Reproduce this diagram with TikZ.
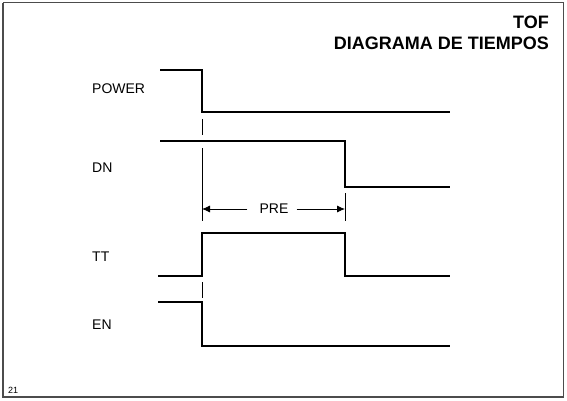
\documentclass[tikz,border=0pt]{standalone}
\usepackage{fontspec}
\setmainfont{Liberation Sans}
\usetikzlibrary{arrows.meta}
\begin{document}
\begin{tikzpicture}[x=1pt,y=-1pt,>={Latex[length=8pt,width=7pt]},line join=miter,
	signal/.style={line width=1.5pt},
	marker/.style={line width=0.6pt},
	lbl/.style={anchor=west,inner sep=0pt,font=\fontsize{14}{15}\selectfont}]
				\useasboundingbox (0,0) rectangle (567,401);
				% frame
				\draw[line width=1pt,gray!60!black] (3,3) rectangle (563,397);
				\draw[line width=2.5pt,gray!60!black] (3,3) -- (3,397) -- (563,397);
				\node[anchor=north east,align=right,inner sep=0pt,font=\bfseries\fontsize{18}{21}\selectfont] (title) at (549,16) {TOF\\DIAGRAMA DE TIEMPOS};
				\node[anchor=south west,inner sep=0pt,font=\fontsize{9}{10}\selectfont] (page) at (8,394) {21};
				% labels
				\node[lbl] (power) at (92,89) {POWER};
				\node[lbl] (dn) at (92,168) {DN};
				\node[lbl] (tt) at (92,257) {TT};
				\node[lbl] (en) at (92,325) {EN};
				% signals
				\draw[signal] (160,70) -- (202,70) -- (202,112) -- (450,112);
				\draw[signal] (160,141) -- (345,141) -- (345,187) -- (450,187);
				\draw[signal] (158,276) -- (202,276) -- (202,233) -- (345,233) -- (345,276) -- (450,276);
				\draw[signal] (158,302) -- (202,302) -- (202,346) -- (450,346);
				% markers
				\draw[marker] (202,119) -- (202,135);
				\draw[marker] (202,148) -- (202,221);
				\draw[marker] (345,193) -- (345,221);
				\draw[marker] (202,282) -- (202,298);
				% PRE
				\node[inner sep=0pt,font=\fontsize{14}{15}\selectfont] (pre) at (274,209) {PRE};
				\coordinate (preA) at (202,209);
				\coordinate (preB) at (345,209);
				\draw[->,line width=0.8pt] (pre.west) ++(-12,0) -- (preA);
				\draw[->,line width=0.8pt] (pre.east) ++(8,0) -- (preB);
		\end{tikzpicture}
\end{document}
